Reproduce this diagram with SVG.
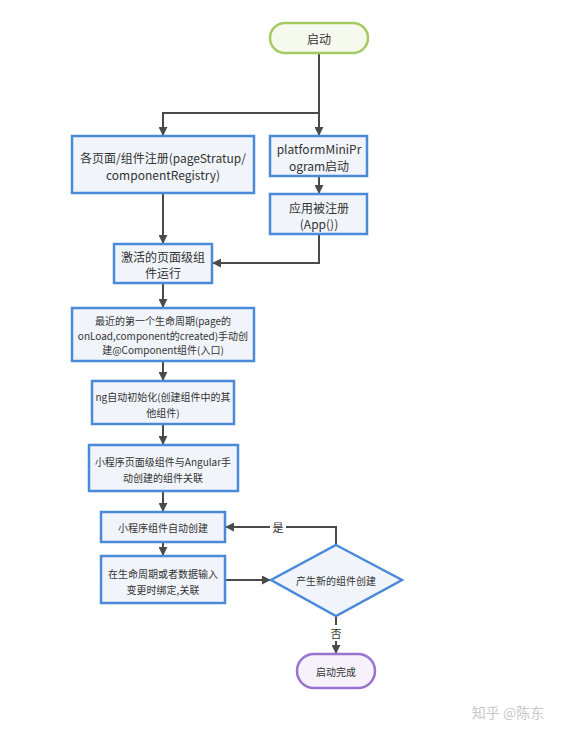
<svg xmlns="http://www.w3.org/2000/svg" width="568" height="732" viewBox="0 0 568 732">
<defs>
<marker id="ah" viewBox="0 0 10 10" refX="9" refY="5" markerWidth="4.5" markerHeight="4.5" orient="auto" markerUnits="strokeWidth">
<path d="M0,0 L10,5 L0,10 z" fill="#4a4a4a"/>
</marker>
<style>
.box{fill:#f1f5fb;stroke:#4a8ad8;stroke-width:2.5}
.term1{fill:#f6f9ee;stroke:#a6ca62;stroke-width:2.5}
.term2{fill:#f6f1fb;stroke:#9a72d2;stroke-width:2.5}
.ln{fill:none;stroke:#4a4a4a;stroke-width:2;marker-end:url(#ah)}
.ln0{fill:none;stroke:#4a4a4a;stroke-width:2}
text{font-family:"Noto Sans CJK SC","Noto Sans",sans-serif;fill:#333;text-anchor:middle;dominant-baseline:central}
.t12{font-size:12px}
.t10{font-size:10px}
.lbl{font-size:11px}
.wm{font-size:14px;fill:#c8c8c8}
</style>
</defs>
<rect width="568" height="732" fill="#ffffff"/>
<g id="connectors">
<path class="ln0" d="M319,53 V113"/>
<path class="ln" d="M319,113 H163 V135"/>
<path class="ln" d="M319,113 V135"/>
<path class="ln" d="M319,176 V193"/>
<path class="ln" d="M163,193 V243"/>
<path class="ln" d="M319,234 V263 H213"/>
<path class="ln" d="M163,283 V307"/>
<path class="ln" d="M163,361 V380"/>
<path class="ln" d="M163,424 V444"/>
<path class="ln" d="M163,491 V511"/>
<path class="ln" d="M163,542 V555"/>
<path class="ln" d="M225,580 H270"/>
<path class="ln" d="M336,545 V527 H226"/>
<path class="ln" d="M336,616 V653"/>
<rect x="270" y="519" width="16" height="16" fill="#ffffff"/>
<text class="lbl" x="278" y="527">是</text>
<rect x="328" y="625" width="16" height="16" fill="#ffffff"/>
<text class="lbl" x="336" y="633">否</text>
</g>
<g id="start">
<rect class="term1" x="270" y="23" width="98" height="30" rx="15"/>
<text class="t12" x="319" y="38">启动</text>
</g>
<g id="register">
<rect class="box" x="72" y="136" width="182" height="57"/>
<text class="t12" x="163" y="157">各页面/组件注册(pageStratup/</text>
<text class="t12" x="163" y="174">componentRegistry)</text>
</g>
<g id="platform">
<rect class="box" x="270" y="136" width="97" height="40"/>
<text class="t12" x="319" y="148">platformMiniPr</text>
<text class="t12" x="319" y="165">ogram启动</text>
</g>
<g id="app">
<rect class="box" x="270" y="194" width="97" height="40"/>
<text class="t12" x="319" y="207">应用被注册</text>
<text class="t12" x="319" y="223">(App())</text>
</g>
<g id="activate">
<rect class="box" x="114" y="244" width="98" height="39"/>
<text class="t12" x="163" y="256">激活的页面级组</text>
<text class="t12" x="163" y="272">件运行</text>
</g>
<g id="lifecycle">
<rect class="box" x="72" y="308" width="182" height="53"/>
<text class="t10" x="163" y="320">最近的第一个生命周期(page的</text>
<text class="t10" x="163" y="335">onLoad,component的created)手动创</text>
<text class="t10" x="163" y="349">建@Component组件(入口)</text>
</g>
<g id="nginit">
<rect class="box" x="92" y="381" width="142" height="43"/>
<text class="t10" x="163" y="396">ng自动初始化(创建组件中的其</text>
<text class="t10" x="163" y="412">他组件)</text>
</g>
<g id="associate">
<rect class="box" x="89" y="445" width="149" height="46"/>
<text class="t10" x="163" y="461">小程序页面级组件与Angular手</text>
<text class="t10" x="163" y="477">动创建的组件关联</text>
</g>
<g id="autocreate">
<rect class="box" x="101" y="512" width="124" height="30"/>
<text class="t10" x="163" y="527">小程序组件自动创建</text>
</g>
<g id="bind">
<rect class="box" x="101" y="556" width="124" height="47"/>
<text class="t10" x="163" y="573">在生命周期或者数据输入</text>
<text class="t10" x="163" y="589">变更时绑定,关联</text>
</g>
<g id="decision">
<polygon class="box" points="336,545 402,580 336,616 271,580"/>
<text class="t10" x="336" y="580">产生新的组件创建</text>
</g>
<g id="end">
<rect class="term2" x="297" y="654" width="78" height="34" rx="17"/>
<text class="t10" x="336" y="671">启动完成</text>
</g>
<text class="wm" x="508" y="712">知乎 @陈东</text>
</svg>
